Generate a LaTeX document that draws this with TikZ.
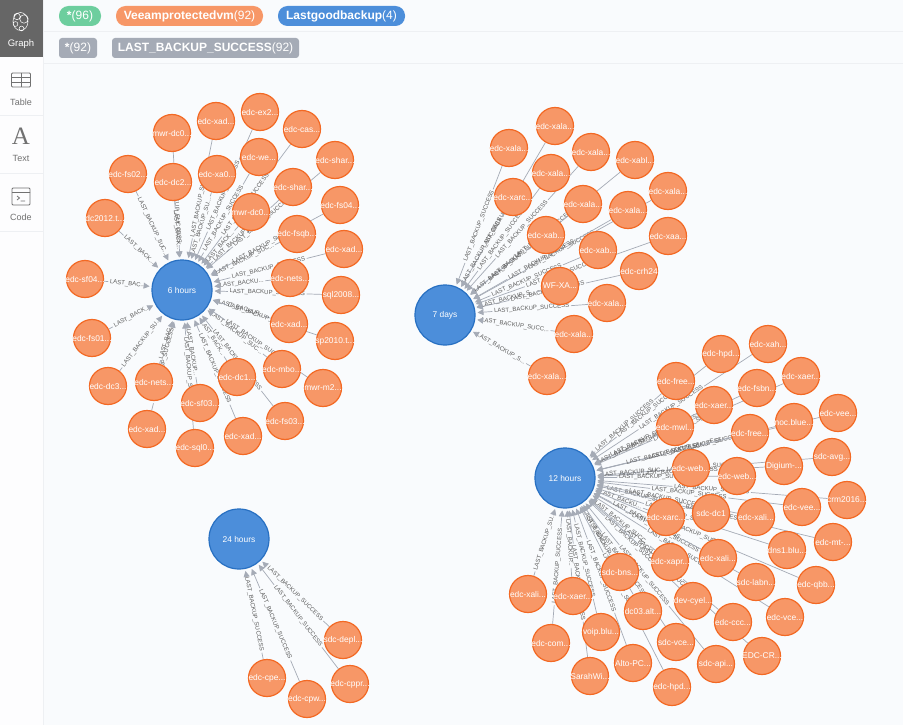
\documentclass[tikz,border=0pt]{standalone}
\usepackage{fontspec}
\setmainfont{Liberation Sans}
\newfontfamily\serifA{Liberation Serif}
\usetikzlibrary{arrows.meta}
\definecolor{pagebg}{HTML}{F9FBFD}
\definecolor{sidebg}{HTML}{FDFDFE}
\definecolor{sidedark}{HTML}{666666}
\definecolor{iconcol}{HTML}{717171}
\definecolor{rulecol}{HTML}{EEF0F3}
\definecolor{vmfill}{HTML}{F79767}
\definecolor{vmdraw}{HTML}{F36924}
\definecolor{hubfill}{HTML}{4C8EDA}
\definecolor{hubdraw}{HTML}{2870C2}
\definecolor{greenpill}{HTML}{6DCE9E}
\definecolor{relcol}{HTML}{A5ABB6}
\definecolor{reltext}{HTML}{5C5C5C}
\pgfdeclarelayer{front}
\pgfsetlayers{main,front}
\tikzset{
  vmnode/.style={shape=circle, draw=vmdraw, fill=vmfill, line width=1.2pt, minimum size=37, inner sep=0pt, text=white, font=\fontsize{8.4}{9}\selectfont},
  hubnode/.style={shape=circle, draw=hubdraw, fill=hubfill, line width=1.2pt, minimum size=60, inner sep=0pt, text=white, font=\fontsize{8.4}{9}\selectfont},
  rellabel/.style={sloped, inner sep=1.5pt, text=reltext, font=\fontsize{6}{7}\selectfont},
  relline/.style={draw=relcol, line width=0.7pt},
  relarrow/.style={relline, -{Triangle[length=6pt,width=6pt]}, shorten >=2pt},
  pillnode/.style={rounded corners=9.5, minimum height=20, inner sep=0pt, text=white, font=\fontsize{12}{14}\selectfont},
  typenode/.style={rounded corners=3, fill=relcol, minimum height=20, inner sep=0pt, text=white, font=\fontsize{12}{14}\selectfont},
  tabtext/.style={text=iconcol, font=\fontsize{9}{11}\selectfont},
  iconline/.style={draw=iconcol, line width=0.8pt}
}
\newcommand{\dd}{...}
\newcommand{\rF}{LAST\_BACKUP\_SUCCESS}
\newcommand{\rG}{LAST\_BACKUP\_SUCC\dd}
\newcommand{\rH}{LAST\_BACKUP\_SUC\dd}
\newcommand{\rI}{LAST\_BACKUP\_SU\dd}
\newcommand{\rJ}{LAST\_BACKUP\_S\dd}
\newcommand{\rK}{LAST\_BACKUP\dd}
\newcommand{\rL}{LAST\_BACKU\dd}
\newcommand{\rM}{LAST\_BACK\dd}
\newcommand{\rN}{LAST\_BAC\dd}
% one ring of vm nodes round a hub
\newcommand{\ringof}[2]{%
  \foreach \px/\py/\vmname/\rel [count=\i] in {#2} {
    \begin{pgfonlayer}{front}
      \node[vmnode] (#1-\i) at (\px,\py) {\makebox[0pt]{\vmname}};
    \end{pgfonlayer}
    \path (#1-\i) -- node[rellabel] (#1-\i-l) {\rel} (#1);
    \draw[relline] (#1-\i) -- (#1-\i-l);
    \draw[relarrow] (#1-\i-l) -- (#1);
  }}
\begin{document}
\begin{tikzpicture}[x=1pt, y=-1pt]
  \useasboundingbox (0,0) rectangle (903,725);
  \fill[pagebg] (0,0) rectangle (903,725);
  % side bar
  \fill[sidebg] (0,0) rectangle (43.5,725);
  \fill[sidedark] (0,0) rectangle (43.5,57);
  \draw[rulecol] (43.5,0) -- (43.5,725);
  \draw[rulecol] (0,115.5) -- (43.5,115.5) (0,173.5) -- (43.5,173.5) (0,231.5) -- (43.5,231.5);
  \draw[rulecol] (44,31.5) -- (903,31.5) (44,63.5) -- (903,63.5);
  % graph icon
  \draw[white, line width=0.5pt] (17,16.5) circle (3.2) (24,19) circle (4.2) (15.5,24) circle (2.4)
    (21.5,28.5) circle (2.4) (20.5,21.5) ellipse (7.5 and 9);
  \node[tabtext, text=white, font=\fontsize{9.5}{11}\selectfont] (graphtab) at (21,44) {Graph};
  % table icon
  \draw[iconline, rounded corners=1] (11.5,73) rectangle (30.5,87);
  \draw[iconline, line width=1.3pt] (11.5,77.5) -- (30.5,77.5);
  \draw[iconline] (11.5,82) -- (30.5,82) (21,73) -- (21,87);
  \node[tabtext] (tabletab) at (21,102) {Table};
  % text icon
  \node[text=iconcol, font=\fontsize{25}{27}\serifA] (textglyph) at (21,136) {A};
  \node[tabtext] (texttab) at (21,158) {Text};
  % code icon
  \draw[iconline, rounded corners=1] (12,188) rectangle (30,205);
  \draw[iconline] (12,192.5) -- (30,192.5) (17,196) -- (19.5,198) -- (17,200) (20.5,201) -- (25,201);
  \node[tabtext] (codetab) at (21,217) {Code};
  % legend
  \node[pillnode, fill=greenpill, minimum width=42] (allnodes) at (80,16) {\textbf{*}(96)};
  \node[pillnode, fill=vmfill, minimum width=147] (vmpill) at (189.5,16) {\textbf{Veeamprotectedvm}(92)};
  \node[pillnode, fill=hubfill, minimum width=127] (hubpill) at (341.5,16) {\textbf{Lastgoodbackup}(4)};
  \node[typenode, minimum width=38] (allrels) at (78,48) {\textbf{*}(92)};
  \node[typenode, minimum width=187] (relpill) at (205.5,48) {\textbf{LAST\_BACKUP\_SUCCESS}(92)};
  % hubs
  \begin{pgfonlayer}{front}
    \node[hubnode] (sixh) at (182,290) {6 hours};
    \node[hubnode] (sevend) at (445,315) {7 days};
    \node[hubnode] (twelveh) at (565,478) {12 hours};
    \node[hubnode] (daily) at (239,539) {24 hours};
  \end{pgfonlayer}
  \ringof{sixh}{172/133/mwr-dc0\dd/\rF, 216/121/edc-xad\dd/\rF, 260/112/edc-ex2\dd/\rF,
    302/129/edc-cas\dd/\rF, 259/157/edc-we\dd/\rF, 335/160/edc-shar\dd/\rF,
    293/187/edc-shar\dd/\rF, 217/174/edc-xa0\dd/\rI, 173/182/edc-dc2\dd/\rM,
    128/174/edc-fs02\dd/\rH, 105/218/dc2012.t\dd/\rM, 251/212/mwr-dc0\dd/\rM,
    340/205/edc-fs04\dd/\rF, 297/234/edc-fsqb\dd/\rH, 344/249/edc-xad\dd/\rF,
    290/278/edc-nets\dd/\rL, 85/279/edc-sf04\dd/\rN, 341/295/sql2008\dd/\rF,
    289/324/edc-xad\dd/\rK, 335/341/sp2010.t\dd/\rF, 282/369/edc-mbo\dd/\rH,
    323/388/mwr-m2\dd/\rF, 237/377/edc-dc1\dd/\rM, 285/421/edc-fs03\dd/\rF,
    243/436/edc-xad\dd/\rF, 200/403/edc-sf03\dd/\rK, 195/448/edc-sql0\dd/\rF,
    154/382/edc-nets\dd/\rN, 147/429/edc-xad\dd/\rF, 108/386/edc-dc3\dd/\rI,
    92/338/edc-fs01\dd/\rM}
  \ringof{sevend}{509/148/edc-xala\dd/\rF, 555/126/edc-xala\dd/\rF, 591/152/edc-xala\dd/\rF,
    635/160/edc-xabl\dd/\rF, 551/173/edc-xala\dd/\rF, 513/197/edc-xarc\dd/\rF,
    668/191/edc-xala\dd/\rF, 583/204/edc-xala\dd/\rF, 628/210/edc-xala\dd/\rF,
    546/235/edc-xab\dd/\rH, 668/236/edc-xaa\dd/\rF, 598/250/edc-xab\dd/\rF,
    639/271/edc-crh24/\rF, 560/286/WF-XA\dd/\rJ, 607/303/edc-xala\dd/\rF,
    574/334/edc-xala\dd/\rG, 547/376/edc-xala\dd/\rJ}
  \ringof{twelveh}{721/354/edc-hpd\dd/\rF, 768/344/edc-xah\dd/\rF, 801/376/edc-xaer\dd/\rF,
    676/381/edc-free\dd/\rF, 757/388/edc-fsbn\dd/\rF, 714/405/edc-xaer\dd/\rF,
    838/413/edc-vee\dd/\rF, 794/422/noc.blue\dd/\rF, 675/427/edc-mwl\dd/\rI,
    750/433/edc-free\dd/\rF, 832/457/sdc-avg\dd/\rF, 784/466/Digium-\dd/\rF,
    691/468/edc-web\dd/\rH, 737/476/edc-web\dd/\rF, 847/500/crm2016\dd/\rF,
    802/507/edc-vee\dd/\rF, 711/513/sdc-dc1/\rF, 756/517/edc-xali\dd/\rF,
    666/517/edc-xarc\dd/\rL, 833/542/edc-mt-\dd/\rF, 787/550/dns1.blu\dd/\rF,
    816/585/edc-qbb\dd/\rF, 756/582/sdc-labn\dd/\rF, 718/558/edc-xali\dd/\rF,
    670/562/edc-xapr\dd/\rG, 620/572/sdc-bns\dd/\rL, 693/601/dev-cyel\dd/\rF,
    785/617/edc-vce\dd/\rF, 733/622/edc-ccc\dd/\rF, 528/594/edc-xali\dd/\rI,
    573/596/edc-xaer\dd/\rK, 643/611/dc03.alt\dd/\rF, 601/632/voip.blu\dd/\rF,
    551/643/edc-com\dd/\rF, 676/642/sdc-vce\dd/\rF, 762/656/EDC-CR\dd/\rF,
    716/664/sdc-api\dd/\rF, 633/663/Alto-PC\dd/\rF, 590/676/SarahWi\dd/\rF,
    672/687/edc-hpd\dd/\rF}
  \ringof{daily}{343/640/sdc-depl\dd/\rF, 350/684/edc-cppr\dd/\rF, 267/678/edc-cpe\dd/\rF,
    307/699/edc-cpw\dd/\rF}
\end{tikzpicture}
\end{document}
